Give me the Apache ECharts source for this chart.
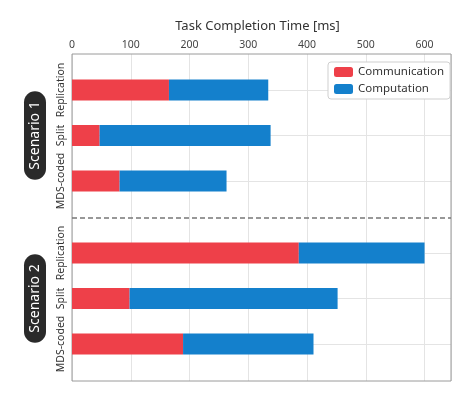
<!DOCTYPE html>
<html>
<head>
<meta charset="utf-8">
<script src="https://cdn.jsdelivr.net/npm/echarts@6/dist/echarts.min.js"></script>
<style>
html,body{margin:0;padding:0;background:#fff;}
#chart{width:474px;height:403px;}
</style>
</head>
<body>
<div id="chart"></div>
<script>
// ---- data ----
const methods = ['Replication', 'Split', 'MDS-coded'];
const scenarioNames = ['Scenario 1', 'Scenario 2'];
const seriesNames = ['Communication', 'Computation'];
const s1Communication = [165, 47, 81];
const s1Computation = [169, 291, 182];
const s2Communication = [386, 98, 189];
const s2Computation = [214, 354, 222];
const xTicksMax = 645;
const xTickStep = 100;

const RED = '#EE4049';
const BLUE = '#1480CC';
const FONT = 'Noto Sans';

const chart = echarts.init(document.getElementById('chart'), null, {renderer: 'canvas'});

const gridLeft = 72, gridWidth = 379;
const band = 45.5;

function catAxis(gridIndex, name) {
  return {
    type: 'category', gridIndex: gridIndex, data: methods, inverse: true,
    axisLine: {show: false}, axisTick: {show: false},
    axisLabel: {interval: 0, rotate: 90, margin: 5, color: '#333', fontSize: 10.5, fontFamily: FONT},
    splitLine: {show: true, interval: 0, alignWithLabel: true, lineStyle: {color: '#e4e4e4', width: 1}},
    name: name, nameLocation: 'middle', nameRotate: 90, nameGap: 26,
    nameTextStyle: {color: '#fff', fontSize: 14, fontFamily: FONT, backgroundColor: '#2a2a2a',
      borderRadius: 13, padding: [4, 10, 4, 10]}
  };
}
function hiddenX(gridIndex) {
  return {type: 'value', gridIndex: gridIndex, min: 0, max: xTicksMax, interval: xTickStep, show: false};
}
function bar(name, data, xi, stack, color) {
  return {
    type: 'bar', name: name, data: data, xAxisIndex: xi, yAxisIndex: xi, stack: stack,
    barWidth: 21, itemStyle: {color: color}, z: 3
  };
}

chart.setOption({
  animation: false,
  textStyle: {fontFamily: FONT},
  grid: [
    {left: gridLeft, top: 54, width: gridWidth, height: 327, show: true, borderColor: '#9a9a9a', borderWidth: 1, z: 1},
    {left: gridLeft, top: 90 - band / 2, width: gridWidth, height: band * 3},
    {left: gridLeft, top: 253 - band / 2, width: gridWidth, height: band * 3}
  ],
  legend: {
    data: seriesNames, orient: 'vertical', left: 328, top: 62,
    itemWidth: 19, itemHeight: 10, itemGap: 5,
    backgroundColor: '#fff', borderColor: '#cfcfcf', borderWidth: 1, borderRadius: 3,
    padding: [4, 6, 4, 6],
    textStyle: {color: '#333', fontSize: 11.5, fontFamily: FONT},
    z: 10
  },
  xAxis: [
    {type: 'value', gridIndex: 0, position: 'top', min: 0, max: xTicksMax, interval: xTickStep,
     axisLine: {show: false}, axisTick: {show: false},
     axisLabel: {color: '#444', fontSize: 10.5, margin: 3, showMaxLabel: false, fontFamily: FONT},
     splitLine: {show: true, lineStyle: {color: '#e4e4e4', width: 1}},
     name: 'Task Completion Time [ms]', nameLocation: 'middle', nameGap: 21,
     nameTextStyle: {color: '#333', fontSize: 13, fontFamily: FONT, padding: [0, 8, 0, 0]}},
    hiddenX(1), hiddenX(2)
  ],
  yAxis: [
    {type: 'value', gridIndex: 0, min: 0, max: 2, show: false},
    catAxis(1, scenarioNames[0]),
    catAxis(2, scenarioNames[1])
  ],
  series: [
    {type: 'line', name: 'separator', xAxisIndex: 0, yAxisIndex: 0, data: [], silent: true,
     markLine: {silent: true, symbol: ['none', 'none'], label: {show: false},
       lineStyle: {type: [5, 3], color: '#777', width: 1.5},
       data: [{yAxis: 1}]}},
    bar(seriesNames[0], s1Communication, 1, 's1', RED),
    bar(seriesNames[1], s1Computation, 1, 's1', BLUE),
    bar(seriesNames[0], s2Communication, 2, 's2', RED),
    bar(seriesNames[1], s2Computation, 2, 's2', BLUE)
  ]
});
</script>
</body>
</html>
